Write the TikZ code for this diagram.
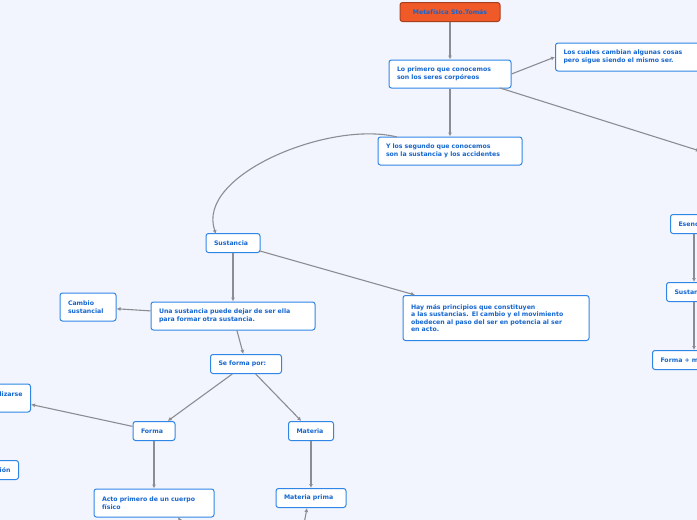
\documentclass[tikz,border=0pt]{standalone}
\usepackage{fontspec}
\setmainfont{DejaVu Sans}
\usetikzlibrary{arrows.meta}
\definecolor{bg}{HTML}{F2F5FD}
\definecolor{bd}{HTML}{2F86E6}
\definecolor{tx}{HTML}{1466D0}
\definecolor{ar}{HTML}{8C8C94}
\definecolor{og}{HTML}{F05A28}
\begin{document}
\begin{tikzpicture}[x=1pt,y=-1pt,
  box/.style={draw=bd,line width=1pt,rounded corners=2.5pt,fill=white,text=tx,
    font=\bfseries\fontsize{6.2}{7.5}\selectfont,align=left,inner xsep=8pt,inner ysep=4pt},
  bw/.style={text width=#1-16pt},
  conn/.style={draw=ar,line width=1.1pt,-{Latex[length=4pt,width=4pt]}}]
\useasboundingbox (0,0) rectangle (697,520);
\fill[bg] (0,0) rectangle (697,520);
\clip (0,0) rectangle (697,520);
\node[box,fill=og,draw=og!70!black,text=tx,minimum width=100pt,minimum height=19pt,align=center] (meta) at (450,12) {Metafísica Sto.Tomás};
\node[box,bw=122pt,minimum height=28pt] (lp) at (450,74) {Lo primero que conocemos\\son los seres corpóreos};
\node[box,bw=165pt,minimum height=28pt,anchor=west] (lc) at (555,57) {Los cuales cambian algunas cosas\\pero sigue siendo el mismo ser.};
\node[box,bw=144pt,minimum height=28pt] (ys) at (450,151) {Y los segundo que conocemos\\son la sustancia y los accidentes};
\node[box,bw=54pt,minimum height=19pt] (sus) at (233,243) {Sustancia};
\node[box,bw=186pt,minimum height=45pt] (hay) at (496,318) {Hay más principios que constituyen\\a las sustancias. El cambio y el movimiento\\obedecen al paso del ser en potencia al ser\\en acto.};
\node[box,bw=164pt,minimum height=28pt] (una) at (233,316) {Una sustancia puede dejar de ser ella\\para formar otra sustancia.};
\node[box,bw=56pt,minimum height=28pt] (cam) at (88,307) {Cambio\\sustancial};
\node[box,bw=71pt,minimum height=19pt] (se) at (246,364) {Se forma por:};
\node[box,minimum height=28pt,anchor=east] (act) at (31,398) {Actualizarse\\\phantom{x}};
\node[box,minimum height=19pt,anchor=east] (pri) at (19,470) {Privación};
\node[box,bw=42pt,minimum height=19pt] (for) at (154,431) {Forma};
\node[box,bw=45pt,minimum height=19pt] (mat) at (311,431) {Materia};
\node[box,bw=120pt,minimum height=28pt] (acp) at (154,503) {Acto primero de un cuerpo\\físico};
\node[box,bw=70pt,minimum height=19pt] (mp) at (311,498) {Materia prima};
\node[box,minimum height=19pt,anchor=west] (es) at (670,224) {Esencia};
\node[box,minimum height=19pt,anchor=west] (su2) at (666,292) {Sustancia};
\node[box,minimum height=19pt,anchor=west] (fm) at (652,360) {Forma + materia};
\coordinate (off1) at (700,151);
\coordinate (off2) at (182,524);
\coordinate (off3) at (304,524);
\coordinate (e1) at (694,234);
\coordinate (e2) at (694,282);
\coordinate (e3) at (694,302);
\coordinate (e4) at (694,350);
\coordinate (lps) at (500,88);
\coordinate (yss) at (397,137);
\coordinate (sust) at (216,234);
\coordinate (suse) at (260,251);
\coordinate (acps) at (178,517);
\coordinate (mps) at (307,508);
\draw[conn] (meta) -- (lp);
\draw[conn] (lp.east) -- (lc.west);
\draw[conn] (lp) -- (ys);
\draw[conn] (lps) -- (off1);
\draw[conn] (yss) .. controls (330,120) and (195,175) .. (sust);
\draw[conn] (sus) -- (una);
\draw[conn] (suse) -- (hay);
\draw[conn] (una) -- (cam);
\draw[conn] (una) -- (se);
\draw[conn] (se) -- (for);
\draw[conn] (se) -- (mat);
\draw[conn] (for) -- (act);
\draw[conn] (for) -- (acp);
\draw[conn] (mat) -- (mp);
\draw[conn] (off2) -- (acps);
\draw[conn] (off3) -- (mps);
\draw[conn] (e1) -- (e2);
\draw[conn] (e3) -- (e4);
\end{tikzpicture}
\end{document}
